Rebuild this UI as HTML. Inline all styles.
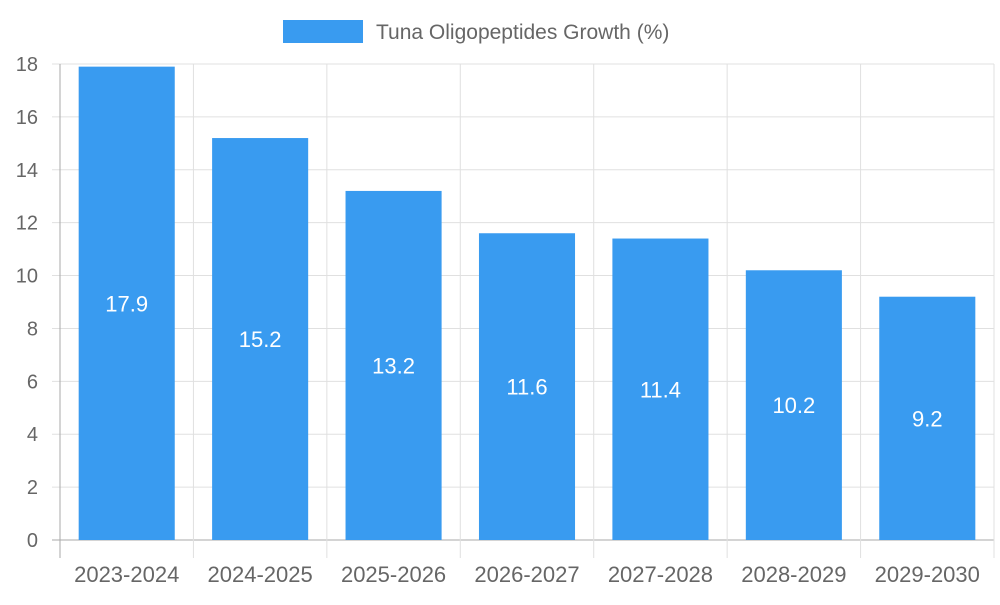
<!DOCTYPE html>
<html><head><meta charset="utf-8"><style>
body{margin:0;background:#fff;font-family:"Liberation Sans",sans-serif}
</style></head><body>
<svg id="chart" width="1000" height="600" xmlns="http://www.w3.org/2000/svg" font-family="Liberation Sans, sans-serif">
<rect x="283" y="20" width="80" height="23" fill="#399BF0"/>
<text x="376" y="39" font-size="21" fill="#666">Tuna Oligopeptides Growth (%)</text>
<g id="grid"></g><g id="bars"></g><g id="labels"></g>
</svg>
<script>
const categories=["2023-2024","2024-2025","2025-2026","2026-2027","2027-2028","2028-2029","2029-2030"];
const growth=[17.9,15.2,13.2,11.6,11.4,10.2,9.2];
const yTicks=[0,2,4,6,8,10,12,14,16,18];
const NS="http://www.w3.org/2000/svg";
const L=60,R=994,T=64,B=540,yMax=18;
const y=v=>B-(v/yMax)*(B-T);
const cw=(R-L)/categories.length;
const x=i=>L+i*cw;
function mk(tag,attrs,parent,txt){const e=document.createElementNS(NS,tag);for(const k in attrs)e.setAttribute(k,attrs[k]);if(txt!==undefined)e.textContent=txt;parent.appendChild(e);return e;}
const grid=document.getElementById('grid'),bars=document.getElementById('bars'),labels=document.getElementById('labels');
yTicks.forEach(t=>{
  const ln=mk('line',{x1:L-8,x2:R,y1:y(t),y2:y(t),stroke:t===0?'#aaa':'#e0e0e0','stroke-width':1},grid);
  
  
  const tx=mk('text',{x:L-22,y:y(t)+7,'text-anchor':'end','font-size':20,fill:'#666'},grid,String(t));
  
  
});
for(let i=0;i<=categories.length;i++){
  const ln=mk('line',{x1:x(i),x2:x(i),y1:T,y2:B+18,stroke:i===0?'#aaa':'#e0e0e0','stroke-width':1},grid);
  
  
}
categories.forEach((c,i)=>{
  const bw=cw*0.72,bx=x(i)+(cw-bw)/2;
  const r=mk('rect',{x:bx,y:y(growth[i]),width:bw,height:B-y(growth[i]),fill:'#399BF0'},bars);
  
  
  const v=mk('text',{x:x(i)+cw/2,y:(y(growth[i])+B)/2+8,'text-anchor':'middle','font-size':22,fill:'#fff'},labels,String(growth[i]));
  
  
  const xl=mk('text',{x:x(i)+cw/2,y:582,'text-anchor':'middle','font-size':22,fill:'#666'},labels,c);
  
  
});
</script>
</body></html>
